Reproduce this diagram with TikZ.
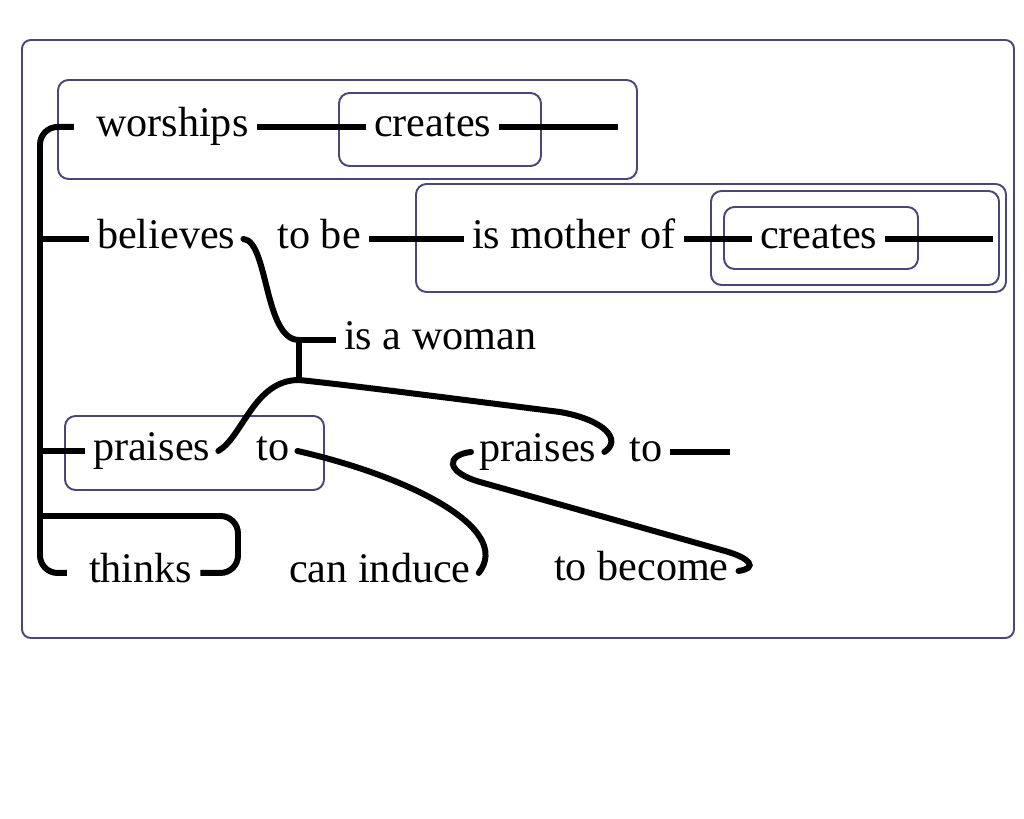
\documentclass[tikz,border=0pt]{standalone}
\usepackage{fontspec}
\setmainfont{Liberation Serif}
\usetikzlibrary{positioning}
\definecolor{boxline}{RGB}{74,70,122}

\begin{document}
\begin{tikzpicture}[x=0.01cm,y=-0.01cm,semithick]

			\tikzstyle{every node}=[font=\fontsize{12}{14}\selectfont]

			\tikzstyle{word}=[inner xsep=2pt,inner ysep=0pt,text height=8pt,text depth=2.3pt,anchor=base west]
			\tikzstyle{link}=[line width=1.7pt]
			\tikzstyle{curve}=[line width=1.7pt,line cap=round]
			\tikzstyle{frame}=[draw=boxline,line width=0.55pt,rounded corners=3pt]

			\useasboundingbox (0,0) rectangle (1024,819);

			% frames
			\draw[frame,rounded corners=2.5pt] (22,40) rectangle (1014,638);
			\draw[frame] (58,80) rectangle (637,179);
			\draw[frame] (339,93) rectangle (541,166);
			\draw[frame] (416,184) rectangle (1006,292);
			\draw[frame] (711,191) rectangle (999,285);
			\draw[frame] (724,207) rectangle (918,269);
			\draw[frame] (65,416) rectangle (324,490);

			\node[word] (worships) at (88,137) {worships};
			\node[word] (creates1) at (366,137) {creates};
			\node[word] (believes) at (89,249) {believes};
			\node[word] (tobe)     [right=0.26cm of believes] {to be};
			\node[word] (mother)   at (464,249) {is mother of};
			\node[word] (creates2) at (752,249) {creates};
			\node[word] (woman)    at (336,350) {is a woman};
			\node[word] (praisesA) at (85,461) {praises};
			\node[word] (toA)      [right=0.3cm of praisesA] {to};
			\node[word] (praisesB) at (471,462) {praises};
			\node[word] (toB)      [right=0.17cm of praisesB] {to};
			\node[word] (thinks)   at (81,583) {thinks};
			\node[word] (induce)   at (281,583) {can induce};
			\node[word] (become)   at (546,581) {to become};

			\coordinate (spine) at (40,0);
			\coordinate (J) at (299,380);
			\coordinate (bk) at (238,516);
			\coordinate (E1) at (618,0);
			\coordinate (E2) at (993,0);
			\coordinate (E3) at (730,0);
			\coordinate (w1) at (560,412);
			\coordinate (w2) at (480,482);
			\coordinate (w3) at (725,551);

			% left spine
			\draw[link,rounded corners=5pt,shorten <=4pt,shorten >=4pt] (worships.west) -| (spine |- thinks.west) -- (thinks.west);
			\draw[link] (spine |- believes.west) -- (believes.west);
			\draw[link] (spine |- praisesA.west) -- (praisesA.west);
			\draw[link,rounded corners=5pt] (spine |- bk) -| (bk |- thinks.east) -- (thinks.east);

			\draw[link] (worships.east) -- (creates1.west);
			\draw[link] (creates1.east) -- (creates1.east -| E1);
			\draw[link] (tobe.east) -- (mother.west);
			\draw[link] (mother.east) -- (creates2.west);
			\draw[link] (creates2.east) -- (creates2.east -| E2);
			\draw[link] (toB.east) -- (toB.east -| E3);
			\draw[link] (woman.west) -- (J |- woman.west) -- (J);

			\draw[curve] (believes.east) .. controls +(25,2) and +(-35,0) .. (J |- woman.west);
			\draw[curve] (J) .. controls +(-45,0) and +(25,-15) .. (praisesA.east);
			\draw[curve] (J) .. controls +(50,5) and +(-80,-10) .. (w1)
				.. controls +(45,8) and +(18,-12) .. (praisesB.east);
			\draw[curve] (toA.east) .. controls +(110,25) and +(35,-45) .. (induce.east);
			%\draw[curve] (praisesB.west) -- (become.east);
			\draw[curve] (praisesB.west) .. controls +(-25,3) and +(-35,-10) .. (w2) -- (w3)
				.. controls +(25,7) and +(20,-3) .. ([xshift=0.5pt]become.east);

		\end{tikzpicture}
\end{document}
